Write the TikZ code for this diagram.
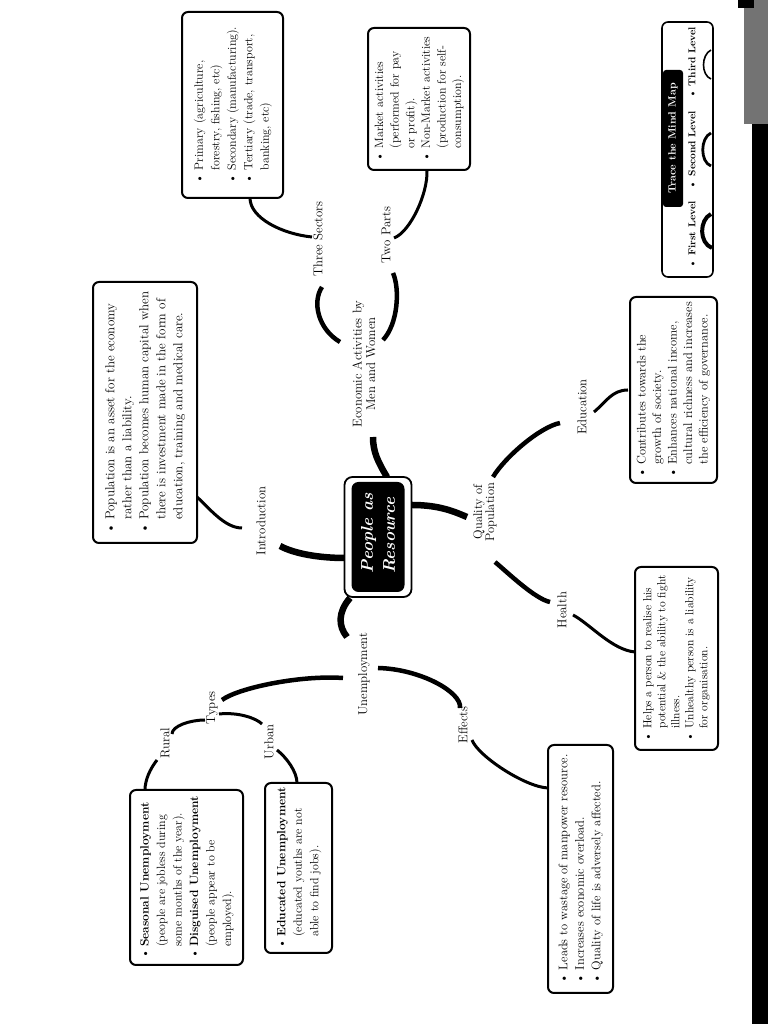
\documentclass[tikz,border=0pt]{standalone}
\usetikzlibrary{calc}
\pgfdeclarelayer{bg}
\pgfsetlayers{bg,main}
\newcommand{\bul}{\textbullet}
\begin{document}
\begin{tikzpicture}
\useasboundingbox (0pt,0pt) rectangle (768pt,1024pt);
\begin{pgfonlayer}{bg}
\fill[white] (0pt,0pt) rectangle (768pt,1024pt);
\end{pgfonlayer}
% scanned page edge
\fill[black] (752pt,0pt) rectangle (768pt,900pt);
\fill[black!55] (744pt,900pt) rectangle (768pt,1024pt);
\fill[black] (738pt,1016pt) rectangle (754pt,1024pt);
\begin{scope}[rotate=90, transform shape, x=1pt, y=1pt,
  lab/.style={inner sep=1pt, align=center, font=\fontsize{12.8}{13.5}\selectfont},
  bx/.style={draw, line width=2pt, rounded corners=6pt, fill=white, inner sep=0pt},
  l1/.style={line width=6.5pt},
  l2/.style={line width=4.5pt},
  l3/.style={line width=3pt}]
% central node
\node[draw, line width=1.8pt, rounded corners=8pt, fill=white, minimum width=120pt, minimum height=67pt, inner sep=0pt] (root) at (487,-378) {};
\node[fill=black, rounded corners=7pt, minimum width=110pt, minimum height=53pt, inner sep=0pt] (rootin) at (root.center) {};
\node[anchor=west, text=white, align=left, inner sep=0pt, font=\fontsize{17}{22}\selectfont\bfseries\itshape] (roottxt) at (450,-378) {People as\\Resource};
% labels
\node[lab] (intro) at (503,-261) {Introduction};
\node[lab] (econ) at (660,-364) {Economic Activities by\\Men and Women};
\node[lab] (three) at (785,-318) {Three Sectors};
\node[lab] (two) at (789,-386) {Two Parts};
\node[lab, font=\fontsize{12.5}{12}\selectfont] (qual) at (512,-485) {Quality of\\Population};
\node[lab] (edu) at (617,-582) {Education};
\node[lab] (health) at (414,-562) {Health};
\node[lab] (unemp) at (350,-364) {Unemployment};
\node[lab] (types) at (316,-212) {Types};
\node[lab] (effects) at (299,-463) {Effects};
\node[lab] (rural) at (281,-165) {Rural};
\node[lab] (urban) at (282,-269) {Urban};
% boxes
\node[bx, minimum width=261pt, minimum height=104pt, font=\fontsize{13}{17}\selectfont] (introbox) at (611.5,-145) {\begin{tabular}{@{}l@{\hspace{4pt}}l@{}}
\bul & Population is an asset for the economy\\
 & rather than a liability.\\
\bul & Population becomes human capital when\\
 & there is investment made in the form of\\
 & education, training and medical care.
\end{tabular}};
\node[bx, minimum width=186pt, minimum height=101pt, font=\fontsize{12}{16.5}\selectfont] (threebox) at (919,-232.5) {\begin{tabular}{@{}l@{\hspace{4pt}}l@{}}
\bul & Primary (agriculture,\\
 & forestry, fishing, etc)\\
\bul & Secondary (manufacturing).\\
\bul & Tertiary (trade, transport,\\
 & banking, etc)
\end{tabular}};
\node[bx, minimum width=142pt, minimum height=102pt, font=\fontsize{12}{15.6}\selectfont] (twobox) at (925,-419) {\begin{tabular}{@{}l@{\hspace{4pt}}l@{}}
\bul & Market activities\\
 & (performed for pay\\
 & or profit).\\
\bul & Non-Market activities\\
 & (production for self-\\
 & consumption).
\end{tabular}};
\node[bx, minimum width=186pt, minimum height=87pt, font=\fontsize{12.5}{15.5}\selectfont] (edubox) at (634,-673.5) {\begin{tabular}{@{}l@{\hspace{4pt}}l@{}}
\bul & Contributes towards the\\
 & growth of society.\\
\bul & Enhances national income,\\
 & cultural richness and increases\\
 & the efficiency of governance.
\end{tabular}};
\node[bx, minimum width=183pt, minimum height=83pt, font=\fontsize{11.7}{14}\selectfont] (healthbox) at (365.5,-676.5) {\begin{tabular}{@{}l@{\hspace{4pt}}l@{}}
\bul & Helps a person to realise his\\
 & potential \& the ability to fight\\
 & illness.\\
\bul & Unhealthy person is a liability\\
 & for organisation.
\end{tabular}};
\node[bx, minimum width=248pt, minimum height=65pt, font=\fontsize{12.5}{16.5}\selectfont] (effbox) at (155,-580.5) {\begin{tabular}{@{}l@{\hspace{4pt}}l@{}}
\bul & Leads to wastage of manpower resource.\\
\bul & Increases economic overload.\\
\bul & Quality of life is adversely affected.
\end{tabular}};
\node[bx, minimum width=175pt, minimum height=113pt, font=\fontsize{12}{16.5}\selectfont] (ruralbox) at (146.5,-186.5) {\begin{tabular}{@{}l@{\hspace{3pt}}l@{}}
\bul & \textbf{Seasonal Unemployment}\\
 & (people are jobless during\\
 & some months of the year).\\
\bul & \textbf{Disguised Unemployment}\\
 & (people appear to be\\
 & employed).
\end{tabular}};
\node[bx, minimum width=170pt, minimum height=67pt, font=\fontsize{12}{16.5}\selectfont] (urbanbox) at (156,-298.5) {\begin{tabular}{@{}l@{\hspace{3pt}}l@{}}
\bul & \textbf{Educated Unemployment}\\
 & (educated youths are not\\
 & able to find jobs).
\end{tabular}};
% legend
\node[draw, line width=1.6pt, rounded corners=6pt, fill=white, minimum width=255pt, minimum height=51pt, inner sep=0pt] (legend) at (874.5,-687.5) {};
\node[fill=black, rounded corners=3pt, minimum width=137pt, minimum height=20pt, inner sep=0pt, text=white, font=\fontsize{10.5}{12}\selectfont\bfseries] (tab) at (885.5,-673) {Trace the Mind Map};
\node[inner sep=0pt, font=\fontsize{10}{12}\selectfont\bfseries] (lv1) at (789,-692) {\bul\ First Level};
\node[inner sep=0pt, font=\fontsize{10}{12}\selectfont\bfseries] (lv2) at (874,-692) {\bul\ Second Level};
\node[inner sep=0pt, font=\fontsize{10}{12}\selectfont\bfseries] (lv3) at (961,-692) {\bul\ Third Level};
\draw[line width=4pt] (776,-712) .. controls (781,-699) and (804,-699) .. (810,-711);
\draw[line width=2.8pt] (858,-711) .. controls (862,-700) and (886,-700) .. (891,-711);
\draw[line width=1.6pt] (945,-711) .. controls (949,-701) and (969,-701) .. (974,-711);
% connectors
\begin{pgfonlayer}{bg}
\draw[l1] ($(root)+(60,-9)$) .. controls +(15,9) and +(-15,0) .. ($(econ)+(-73,-9)$);
\draw[l1] ($(root)+(32,-34)$) .. controls +(0,-28) and +(5,12) .. ($(qual)+(-5,18)$);
\draw[l1] ($(root)+(-21,33)$) .. controls +(0,25) and +(-8,-15) .. ($(intro)+(-25,-19)$);
\draw[l1] ($(root)+(-61,28)$) .. controls +(-14,12) and +(11,9) .. ($(unemp)+(37,17)$);
\draw[l3] ($(intro)+(-7,19)$) .. controls +(0,17) and +(-12,-13) .. ($(introbox)+(-84.5,-52)$);
\draw[l2] ($(econ)+(22,24)$) .. controls +(13,22) and +(-15,10) .. ($(three)+(-48,-4)$);
\draw[l2] ($(econ)+(24,-19)$) .. controls +(16,-15) and +(-16,-7) .. ($(two)+(-38,-7)$);
\draw[l3] ($(three)+(2,6)$) .. controls +(3,30) and +(-20,0) .. ($(threebox)+(-93,-17.5)$);
\draw[l3] ($(two)+(-3,-8)$) .. controls +(6,-16) and +(-24,-1) .. ($(twobox)+(-71,-8)$);
\draw[l2] ($(qual)+(35,-8)$) .. controls +(20,-12) and +(-4,20) .. ($(edu)+(-16,22)$);
\draw[l3] ($(edu)+(-5,-12)$) .. controls +(10,-12) and +(0,16) .. ($(edubox)+(0,45.5)$);
\draw[l2] ($(qual)+(-50,-10)$) .. controls +(-10,-12) and +(3,15) .. ($(health)+(8,12)$);
\draw[l3] ($(health)+(-5,-11)$) .. controls +(-9,-17) and +(2,23) .. ($(healthbox)+(6.5,41.5)$);
\draw[l2] ($(unemp)+(-4,21)$) .. controls +(3,43) and +(12,-16) .. ($(types)+(8,-10)$);
\draw[l2] ($(unemp)+(6,-14)$) .. controls +(-1,-42) and +(16,-2) .. ($(effects)+(17,3)$);
\draw[l3] ($(effects)+(-15,-9)$) .. controls +(-16,-6) and +(1,23) .. ($(effbox)+(81,32.5)$);
\draw[l3] ($(types)+(-12,7)$) .. controls +(0,15) and +(8,0) .. ($(rural)+(9,-7)$);
\draw[l3] ($(types)+(-6,-7)$) .. controls +(2,-19) and +(6,6) .. ($(urban)+(18,7)$);
\draw[l3] ($(rural)+(-17,8)$) .. controls +(-9,7) and +(10,0) .. ($(ruralbox)+(87.5,41.5)$);
\draw[l3] ($(urban)+(-8,-8)$) .. controls +(-8,-10) and +(11,0) .. ($(urbanbox)+(85,1.5)$);
\end{pgfonlayer}
\end{scope}
\end{tikzpicture}
\end{document}
